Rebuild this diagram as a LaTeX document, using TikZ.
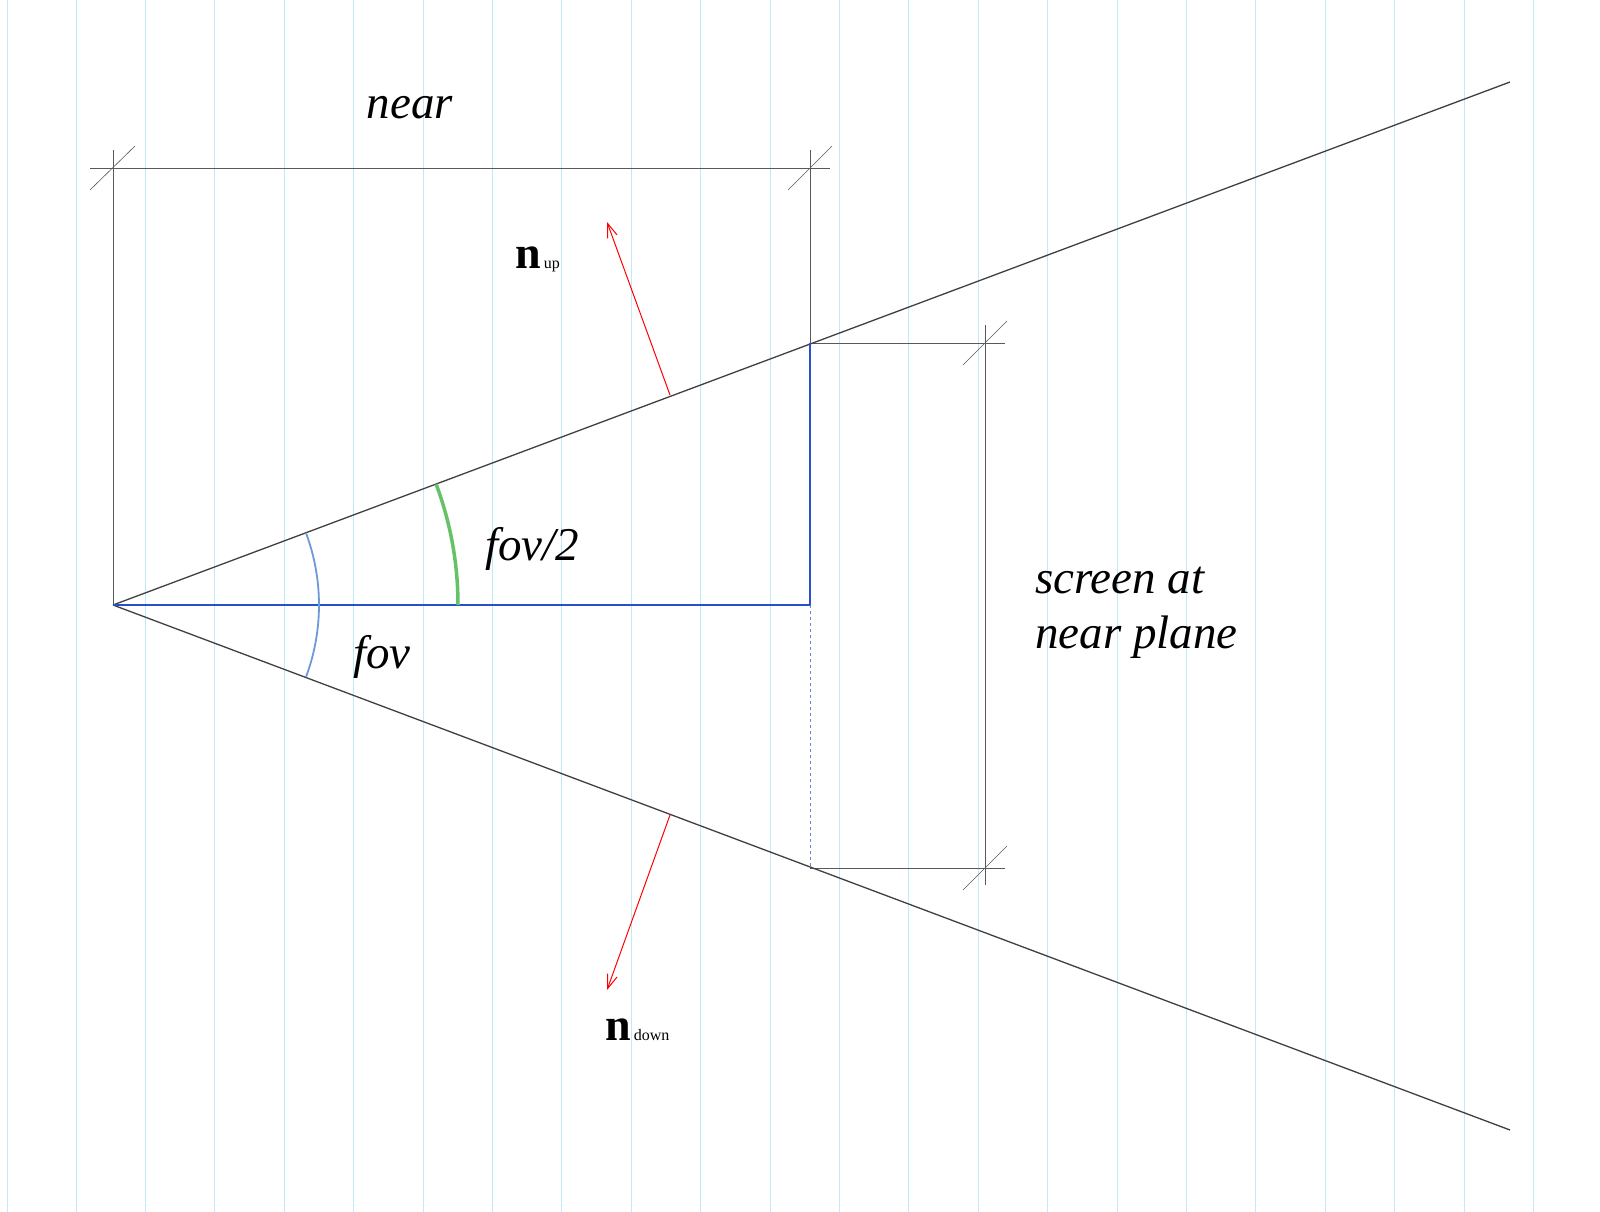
\documentclass[tikz,border=0pt]{standalone}
\usepackage{fontspec}
\setmainfont{Liberation Serif}
\usetikzlibrary{arrows.meta}
\definecolor{lineblue}{RGB}{40,80,200}
\begin{document}
\begin{tikzpicture}[x=1pt,y=-1pt,
  grid/.style={draw=cyan!25,line width=0.8pt},
  dim/.style={draw=gray!70!black,line width=0.6pt},
  edge/.style={draw=black!75,line width=1.3pt},
  bl/.style={draw=lineblue,line width=1.3pt},
  nrm/.style={draw=red,line width=1pt,-{Straight Barb[length=14pt,width=10pt]}},
  lbl/.style={font=\itshape\fontsize{47}{50}\selectfont,inner sep=0pt}]
\useasboundingbox (0,0) rectangle (1600,1212);
\fill[white] (0,0) rectangle (1600,1212);
\foreach \i in {0,...,21} \draw[grid] (76+69.4*\i,0) -- (76+69.4*\i,1212);
\draw[grid] (7,0) -- (7,1212);
\coordinate (A) at (113,605);
\coordinate (T) at (1510,82);
\coordinate (B) at (1510,1130);
\coordinate (S1) at (810,343);
\coordinate (S2) at (810,868);
\coordinate (C) at (810,605);
% dimensions
\draw[dim] (90,168) -- (830,168);
\draw[dim] (113,150) -- (A);
\draw[dim] (810,150) -- (S1);
\draw[dim] (90,190) -- (135,146);
\draw[dim] (788,190) -- (832,146);
\draw[dim] (S1) -- (1005,343);
\draw[dim] (S2) -- (1005,868);
\draw[dim] (985,325) -- (985,885);
\draw[dim] (963,365) -- (1007,321);
\draw[dim] (963,890) -- (1007,846);
% frustum
\draw[edge] (A) -- (T);
\draw[edge] (A) -- (B);
\draw[bl] (A) -- (C) -- (S1);
\draw[lineblue!70,line width=1pt,dashed] (C) -- (S2);
% arcs
\draw[draw=cyan!50!blue!60,line width=1.8pt] (A) ++(20.5:206) arc[start angle=20.5,end angle=-20.5,radius=206];
\draw[draw=green!60!black!60,line width=3.5pt] (A) ++(-20.5:345) arc[start angle=-20.5,end angle=0,radius=345];
% normals
\coordinate (U0) at (670,395); \coordinate (U1) at (607,222);
\coordinate (D0) at (670,815); \coordinate (D1) at (607,990);
\draw[nrm] (U0) -- (U1);
\draw[nrm] (D0) -- (D1);
\node[inner sep=0pt,anchor=base west] (nu) at (515,268) {\fontsize{46}{46}\selectfont\bfseries n\hspace{3pt}\fontsize{16}{16}\selectfont\mdseries up};
\node[inner sep=0pt,anchor=base west] (nd) at (605,1040) {\fontsize{46}{46}\selectfont\bfseries n\hspace{3pt}\fontsize{16}{16}\selectfont\mdseries down};
% labels
\node[lbl] (near) at (410,108) {near};
\node[lbl,anchor=base west] (half) at (485,560) {fov/2};
\node[lbl,anchor=base west] (fov) at (353,668) {fov};
\node[lbl,anchor=base west] (scr1) at (1035,593) {screen at};
\node[lbl,anchor=base west] (scr2) at (1035,648) {near plane};
\end{tikzpicture}
\end{document}
